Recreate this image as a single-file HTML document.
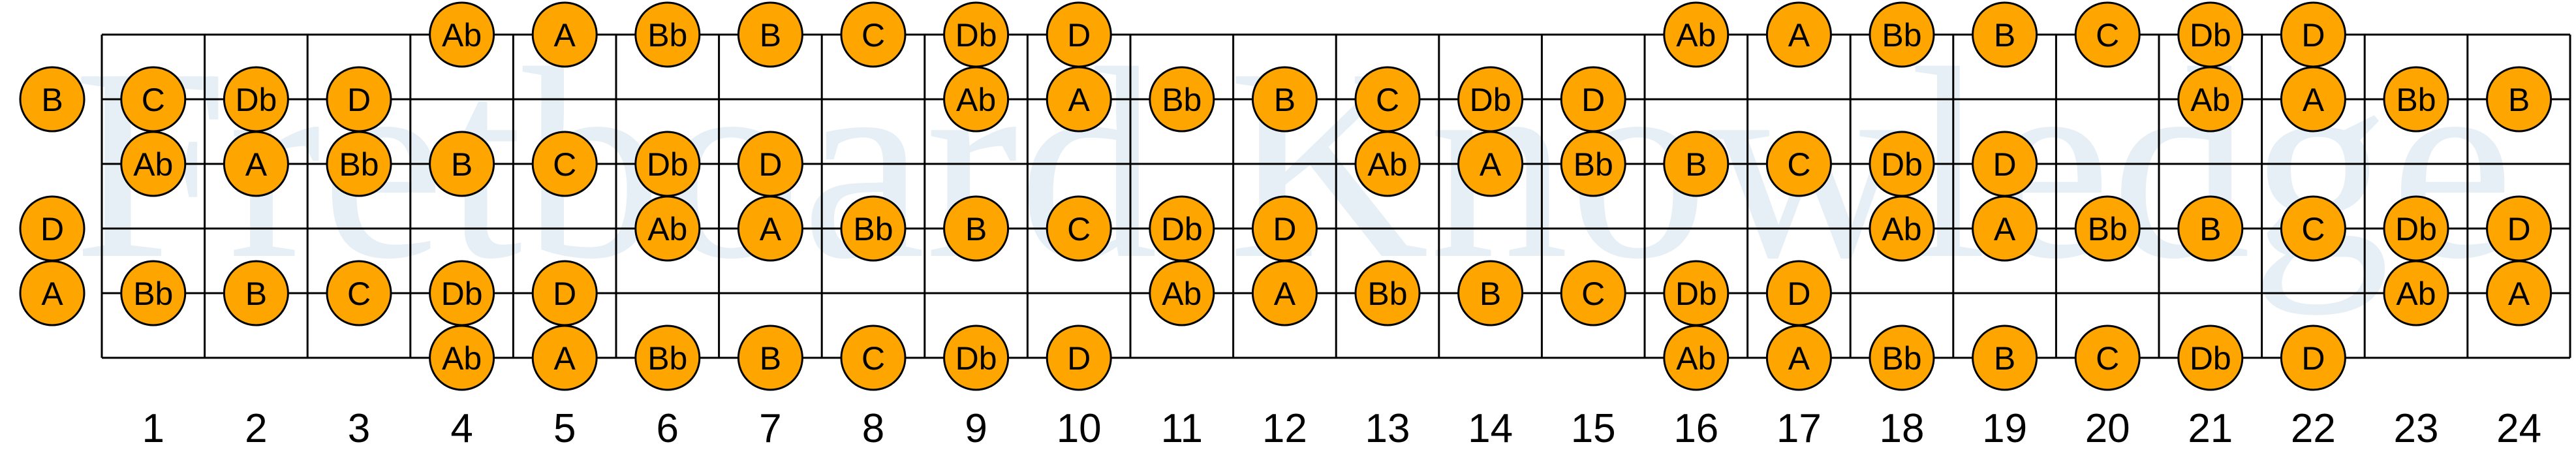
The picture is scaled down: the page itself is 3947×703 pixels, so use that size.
<!DOCTYPE html>
<html><head><meta charset="utf-8"><style>
html,body{margin:0;padding:0;background:#fff;}
svg{display:block}
.g line{stroke:#000;stroke-width:3}
circle{fill:#FFA500;stroke:#000;stroke-width:3}
.n{font-family:"Liberation Sans",sans-serif;font-size:50px;text-anchor:middle;fill:#000}
.f{font-family:"Liberation Sans",sans-serif;font-size:62px;text-anchor:middle;fill:#000}
</style></head><body>
<svg width="3947" height="703" viewBox="0 0 3947 703" xmlns="http://www.w3.org/2000/svg">
<text x="112" y="392" font-family="'Liberation Serif',serif" font-size="420" fill="#e6eff5" textLength="3740" lengthAdjust="spacingAndGlyphs">Fretboard Knowledge</text>
<g class="g">
<line x1="156" y1="53" x2="3938" y2="53"/>
<line x1="156" y1="152" x2="3938" y2="152"/>
<line x1="156" y1="251" x2="3938" y2="251"/>
<line x1="156" y1="350" x2="3938" y2="350"/>
<line x1="156" y1="449" x2="3938" y2="449"/>
<line x1="156" y1="548" x2="3938" y2="548"/>
<line x1="156" y1="53" x2="156" y2="548"/>
<line x1="313.6" y1="53" x2="313.6" y2="548"/>
<line x1="471.2" y1="53" x2="471.2" y2="548"/>
<line x1="628.8" y1="53" x2="628.8" y2="548"/>
<line x1="786.4" y1="53" x2="786.4" y2="548"/>
<line x1="944" y1="53" x2="944" y2="548"/>
<line x1="1101.6" y1="53" x2="1101.6" y2="548"/>
<line x1="1259.2" y1="53" x2="1259.2" y2="548"/>
<line x1="1416.8" y1="53" x2="1416.8" y2="548"/>
<line x1="1574.4" y1="53" x2="1574.4" y2="548"/>
<line x1="1732" y1="53" x2="1732" y2="548"/>
<line x1="1889.6" y1="53" x2="1889.6" y2="548"/>
<line x1="2047.2" y1="53" x2="2047.2" y2="548"/>
<line x1="2204.8" y1="53" x2="2204.8" y2="548"/>
<line x1="2362.4" y1="53" x2="2362.4" y2="548"/>
<line x1="2520" y1="53" x2="2520" y2="548"/>
<line x1="2677.6" y1="53" x2="2677.6" y2="548"/>
<line x1="2835.2" y1="53" x2="2835.2" y2="548"/>
<line x1="2992.8" y1="53" x2="2992.8" y2="548"/>
<line x1="3150.4" y1="53" x2="3150.4" y2="548"/>
<line x1="3308" y1="53" x2="3308" y2="548"/>
<line x1="3465.6" y1="53" x2="3465.6" y2="548"/>
<line x1="3623.2" y1="53" x2="3623.2" y2="548"/>
<line x1="3780.8" y1="53" x2="3780.8" y2="548"/>
<line x1="3938" y1="53" x2="3938" y2="548"/>
</g>
<!-- row 0 y=53 -->
<circle cx="707.6" cy="53" r="49"/><text class="n" x="707.6" y="71">Ab</text>
<circle cx="865.2" cy="53" r="49"/><text class="n" x="865.2" y="71">A</text>
<circle cx="1022.8" cy="53" r="49"/><text class="n" x="1022.8" y="71">Bb</text>
<circle cx="1180.4" cy="53" r="49"/><text class="n" x="1180.4" y="71">B</text>
<circle cx="1338" cy="53" r="49"/><text class="n" x="1338" y="71">C</text>
<circle cx="1495.6" cy="53" r="49"/><text class="n" x="1495.6" y="71">Db</text>
<circle cx="1653.2" cy="53" r="49"/><text class="n" x="1653.2" y="71">D</text>
<circle cx="2598.8" cy="53" r="49"/><text class="n" x="2598.8" y="71">Ab</text>
<circle cx="2756.4" cy="53" r="49"/><text class="n" x="2756.4" y="71">A</text>
<circle cx="2914" cy="53" r="49"/><text class="n" x="2914" y="71">Bb</text>
<circle cx="3071.6" cy="53" r="49"/><text class="n" x="3071.6" y="71">B</text>
<circle cx="3229.2" cy="53" r="49"/><text class="n" x="3229.2" y="71">C</text>
<circle cx="3386.8" cy="53" r="49"/><text class="n" x="3386.8" y="71">Db</text>
<circle cx="3544.4" cy="53" r="49"/><text class="n" x="3544.4" y="71">D</text>
<!-- row 1 y=152 -->
<circle cx="80" cy="152" r="49"/><text class="n" x="80" y="170">B</text>
<circle cx="234.8" cy="152" r="49"/><text class="n" x="234.8" y="170">C</text>
<circle cx="392.4" cy="152" r="49"/><text class="n" x="392.4" y="170">Db</text>
<circle cx="550" cy="152" r="49"/><text class="n" x="550" y="170">D</text>
<circle cx="1495.6" cy="152" r="49"/><text class="n" x="1495.6" y="170">Ab</text>
<circle cx="1653.2" cy="152" r="49"/><text class="n" x="1653.2" y="170">A</text>
<circle cx="1810.8" cy="152" r="49"/><text class="n" x="1810.8" y="170">Bb</text>
<circle cx="1968.4" cy="152" r="49"/><text class="n" x="1968.4" y="170">B</text>
<circle cx="2126" cy="152" r="49"/><text class="n" x="2126" y="170">C</text>
<circle cx="2283.6" cy="152" r="49"/><text class="n" x="2283.6" y="170">Db</text>
<circle cx="2441.2" cy="152" r="49"/><text class="n" x="2441.2" y="170">D</text>
<circle cx="3386.8" cy="152" r="49"/><text class="n" x="3386.8" y="170">Ab</text>
<circle cx="3544.4" cy="152" r="49"/><text class="n" x="3544.4" y="170">A</text>
<circle cx="3702" cy="152" r="49"/><text class="n" x="3702" y="170">Bb</text>
<circle cx="3859.6" cy="152" r="49"/><text class="n" x="3859.6" y="170">B</text>
<!-- row 2 y=251 -->
<circle cx="234.8" cy="251" r="49"/><text class="n" x="234.8" y="269">Ab</text>
<circle cx="392.4" cy="251" r="49"/><text class="n" x="392.4" y="269">A</text>
<circle cx="550" cy="251" r="49"/><text class="n" x="550" y="269">Bb</text>
<circle cx="707.6" cy="251" r="49"/><text class="n" x="707.6" y="269">B</text>
<circle cx="865.2" cy="251" r="49"/><text class="n" x="865.2" y="269">C</text>
<circle cx="1022.8" cy="251" r="49"/><text class="n" x="1022.8" y="269">Db</text>
<circle cx="1180.4" cy="251" r="49"/><text class="n" x="1180.4" y="269">D</text>
<circle cx="2126" cy="251" r="49"/><text class="n" x="2126" y="269">Ab</text>
<circle cx="2283.6" cy="251" r="49"/><text class="n" x="2283.6" y="269">A</text>
<circle cx="2441.2" cy="251" r="49"/><text class="n" x="2441.2" y="269">Bb</text>
<circle cx="2598.8" cy="251" r="49"/><text class="n" x="2598.8" y="269">B</text>
<circle cx="2756.4" cy="251" r="49"/><text class="n" x="2756.4" y="269">C</text>
<circle cx="2914" cy="251" r="49"/><text class="n" x="2914" y="269">Db</text>
<circle cx="3071.6" cy="251" r="49"/><text class="n" x="3071.6" y="269">D</text>
<!-- row 3 y=350 -->
<circle cx="80" cy="350" r="49"/><text class="n" x="80" y="368">D</text>
<circle cx="1022.8" cy="350" r="49"/><text class="n" x="1022.8" y="368">Ab</text>
<circle cx="1180.4" cy="350" r="49"/><text class="n" x="1180.4" y="368">A</text>
<circle cx="1338" cy="350" r="49"/><text class="n" x="1338" y="368">Bb</text>
<circle cx="1495.6" cy="350" r="49"/><text class="n" x="1495.6" y="368">B</text>
<circle cx="1653.2" cy="350" r="49"/><text class="n" x="1653.2" y="368">C</text>
<circle cx="1810.8" cy="350" r="49"/><text class="n" x="1810.8" y="368">Db</text>
<circle cx="1968.4" cy="350" r="49"/><text class="n" x="1968.4" y="368">D</text>
<circle cx="2914" cy="350" r="49"/><text class="n" x="2914" y="368">Ab</text>
<circle cx="3071.6" cy="350" r="49"/><text class="n" x="3071.6" y="368">A</text>
<circle cx="3229.2" cy="350" r="49"/><text class="n" x="3229.2" y="368">Bb</text>
<circle cx="3386.8" cy="350" r="49"/><text class="n" x="3386.8" y="368">B</text>
<circle cx="3544.4" cy="350" r="49"/><text class="n" x="3544.4" y="368">C</text>
<circle cx="3702" cy="350" r="49"/><text class="n" x="3702" y="368">Db</text>
<circle cx="3859.6" cy="350" r="49"/><text class="n" x="3859.6" y="368">D</text>
<!-- row 4 y=449 -->
<circle cx="80" cy="449" r="49"/><text class="n" x="80" y="467">A</text>
<circle cx="234.8" cy="449" r="49"/><text class="n" x="234.8" y="467">Bb</text>
<circle cx="392.4" cy="449" r="49"/><text class="n" x="392.4" y="467">B</text>
<circle cx="550" cy="449" r="49"/><text class="n" x="550" y="467">C</text>
<circle cx="707.6" cy="449" r="49"/><text class="n" x="707.6" y="467">Db</text>
<circle cx="865.2" cy="449" r="49"/><text class="n" x="865.2" y="467">D</text>
<circle cx="1810.8" cy="449" r="49"/><text class="n" x="1810.8" y="467">Ab</text>
<circle cx="1968.4" cy="449" r="49"/><text class="n" x="1968.4" y="467">A</text>
<circle cx="2126" cy="449" r="49"/><text class="n" x="2126" y="467">Bb</text>
<circle cx="2283.6" cy="449" r="49"/><text class="n" x="2283.6" y="467">B</text>
<circle cx="2441.2" cy="449" r="49"/><text class="n" x="2441.2" y="467">C</text>
<circle cx="2598.8" cy="449" r="49"/><text class="n" x="2598.8" y="467">Db</text>
<circle cx="2756.4" cy="449" r="49"/><text class="n" x="2756.4" y="467">D</text>
<circle cx="3702" cy="449" r="49"/><text class="n" x="3702" y="467">Ab</text>
<circle cx="3859.6" cy="449" r="49"/><text class="n" x="3859.6" y="467">A</text>
<!-- row 5 y=548 -->
<circle cx="707.6" cy="548" r="49"/><text class="n" x="707.6" y="566">Ab</text>
<circle cx="865.2" cy="548" r="49"/><text class="n" x="865.2" y="566">A</text>
<circle cx="1022.8" cy="548" r="49"/><text class="n" x="1022.8" y="566">Bb</text>
<circle cx="1180.4" cy="548" r="49"/><text class="n" x="1180.4" y="566">B</text>
<circle cx="1338" cy="548" r="49"/><text class="n" x="1338" y="566">C</text>
<circle cx="1495.6" cy="548" r="49"/><text class="n" x="1495.6" y="566">Db</text>
<circle cx="1653.2" cy="548" r="49"/><text class="n" x="1653.2" y="566">D</text>
<circle cx="2598.8" cy="548" r="49"/><text class="n" x="2598.8" y="566">Ab</text>
<circle cx="2756.4" cy="548" r="49"/><text class="n" x="2756.4" y="566">A</text>
<circle cx="2914" cy="548" r="49"/><text class="n" x="2914" y="566">Bb</text>
<circle cx="3071.6" cy="548" r="49"/><text class="n" x="3071.6" y="566">B</text>
<circle cx="3229.2" cy="548" r="49"/><text class="n" x="3229.2" y="566">C</text>
<circle cx="3386.8" cy="548" r="49"/><text class="n" x="3386.8" y="566">Db</text>
<circle cx="3544.4" cy="548" r="49"/><text class="n" x="3544.4" y="566">D</text>
<!-- fret numbers -->
<text class="f" x="234.8" y="677">1</text>
<text class="f" x="392.4" y="677">2</text>
<text class="f" x="550" y="677">3</text>
<text class="f" x="707.6" y="677">4</text>
<text class="f" x="865.2" y="677">5</text>
<text class="f" x="1022.8" y="677">6</text>
<text class="f" x="1180.4" y="677">7</text>
<text class="f" x="1338" y="677">8</text>
<text class="f" x="1495.6" y="677">9</text>
<text class="f" x="1653.2" y="677">10</text>
<text class="f" x="1810.8" y="677">11</text>
<text class="f" x="1968.4" y="677">12</text>
<text class="f" x="2126" y="677">13</text>
<text class="f" x="2283.6" y="677">14</text>
<text class="f" x="2441.2" y="677">15</text>
<text class="f" x="2598.8" y="677">16</text>
<text class="f" x="2756.4" y="677">17</text>
<text class="f" x="2914" y="677">18</text>
<text class="f" x="3071.6" y="677">19</text>
<text class="f" x="3229.2" y="677">20</text>
<text class="f" x="3386.8" y="677">21</text>
<text class="f" x="3544.4" y="677">22</text>
<text class="f" x="3702" y="677">23</text>
<text class="f" x="3859.6" y="677">24</text>
</svg>
</body></html>
